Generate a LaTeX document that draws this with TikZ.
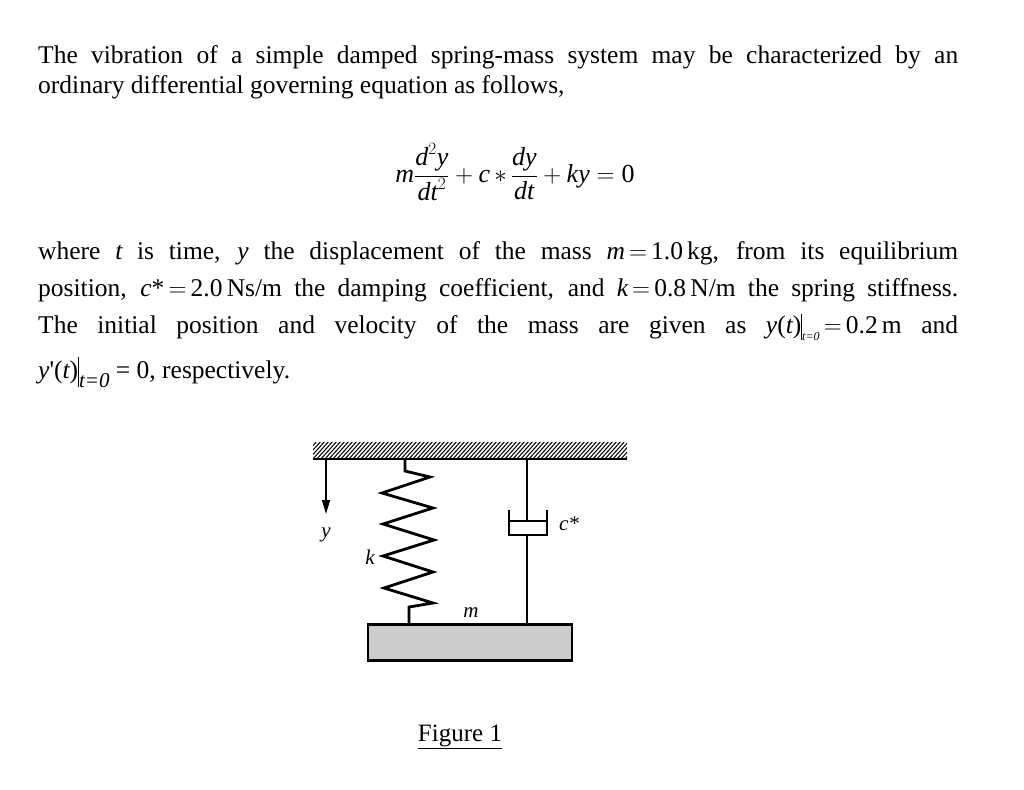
\documentclass[tikz,border=0pt]{standalone}
\usepackage{fontspec}
\setmainfont{Liberation Serif}
\usetikzlibrary{arrows.meta}
\newcommand{\iv}[1]{\mbox{\itshape #1}}
\newcommand{\jline}[1]{\hbox to 920pt{#1}}
\begin{document}
\begin{tikzpicture}[x=1pt,y=-1pt,
  txt/.style={anchor=base west,inner sep=0pt,font=\fontsize{25.5}{28}\selectfont},
  lbl/.style={inner sep=0pt,font=\fontsize{21}{22}\selectfont\itshape},
  thick line/.style={line width=2.8pt}]
\useasboundingbox (0,0) rectangle (1024,789);
\node[txt] (l1) at (38,64) {\jline{The vibration of a simple damped spring-mass system may be characterized by an}};
\node[txt] (l2) at (38,94) {ordinary differential governing equation as follows,};
\node[inner sep=0pt,font=\fontsize{26}{28}\selectfont] (eq) at (515,172)
  {$\displaystyle\iv{m}\frac{\iv{d}^2\iv{y}}{\iv{dt}^2}+\mbox{\itshape c}\,{*}\,\frac{\iv{dy}}{\iv{dt}}+\iv{ky}=\mbox{0}$};
\node[txt] (l3) at (38,259) {\jline{where \iv{t}\ is time, \iv{y} the displacement of the mass \iv{m}$\,=\,$1.0\,kg, from its equilibrium}};
\node[txt] (l4) at (38,296) {\jline{position, \iv{c}*$\,=\,$2.0\,Ns/m the damping coefficient, and \iv{k}$\,=\,$0.8\,N/m the spring stiffness.}};
\node[txt] (l5) at (38,333) {\jline{The initial position and velocity of the mass are given as \iv{y}(\iv{t})\rule[-7pt]{0.9pt}{26pt}\raisebox{-7pt}{\fontsize{12}{12}\selectfont\itshape t=0}$\,=\,$0.2\,m and}};
\node[txt] (l6) at (38,378) {\iv{y}\textquotesingle(\iv{t})\rule[-9pt]{0.9pt}{30pt}\raisebox{-9pt}{\fontsize{21}{21}\selectfont\itshape t=0} = 0, respectively.};
% ceiling
\begin{scope}
\clip (313,442) rectangle (627,458);
\foreach \i in {0,4,...,340} \draw[line width=1pt] (300+\i,460) -- (318+\i,440);
\end{scope}
\draw[line width=2pt] (313,459) coordinate (cl) -- (627,459) coordinate (cr);
% y arrow
\coordinate (ya) at (326,459);
\coordinate (yb) at (326,514);
\draw[line width=1.6pt,-{Triangle[length=14pt,width=8pt]}] (ya) -- (yb);
\node[lbl] (ylab) at (326,535) {y};
% spring
\coordinate (st) at (405,459);
\coordinate (sb) at (409,624);
\draw[thick line,line join=miter] (st) -- (405,471) -- (430,477) -- (382,493) -- (433,508) -- (383,524)
 -- (434,540) -- (383,556) -- (433,572) -- (384,588) -- (433,603) -- (409,607) -- (sb);
\node[lbl] (k) at (370,557) {k};
% mass
\node[draw,line width=2.6pt,fill=gray!40,minimum width=204pt,minimum height=36pt,inner sep=0pt] (mass) at (470,642.5) {};
\node[lbl] (m) at (471,613) {m};
% damper
\coordinate (dt) at (527,459);
\draw[thick line] (dt) -- (527,521);
\draw[thick line] (509,510) -- (509,535) -- (547,535) -- (547,510);
\draw[thick line] (509,521) -- (547,521);
\draw[thick line] (527,535) -- (mass.north -| dt);
\node[lbl] (c) at (569,524) {c*};
\node[inner sep=0pt,font=\fontsize{25}{26}\selectfont] (fig) at (460,737) {\underline{Figure 1}};
\end{tikzpicture}
\end{document}
